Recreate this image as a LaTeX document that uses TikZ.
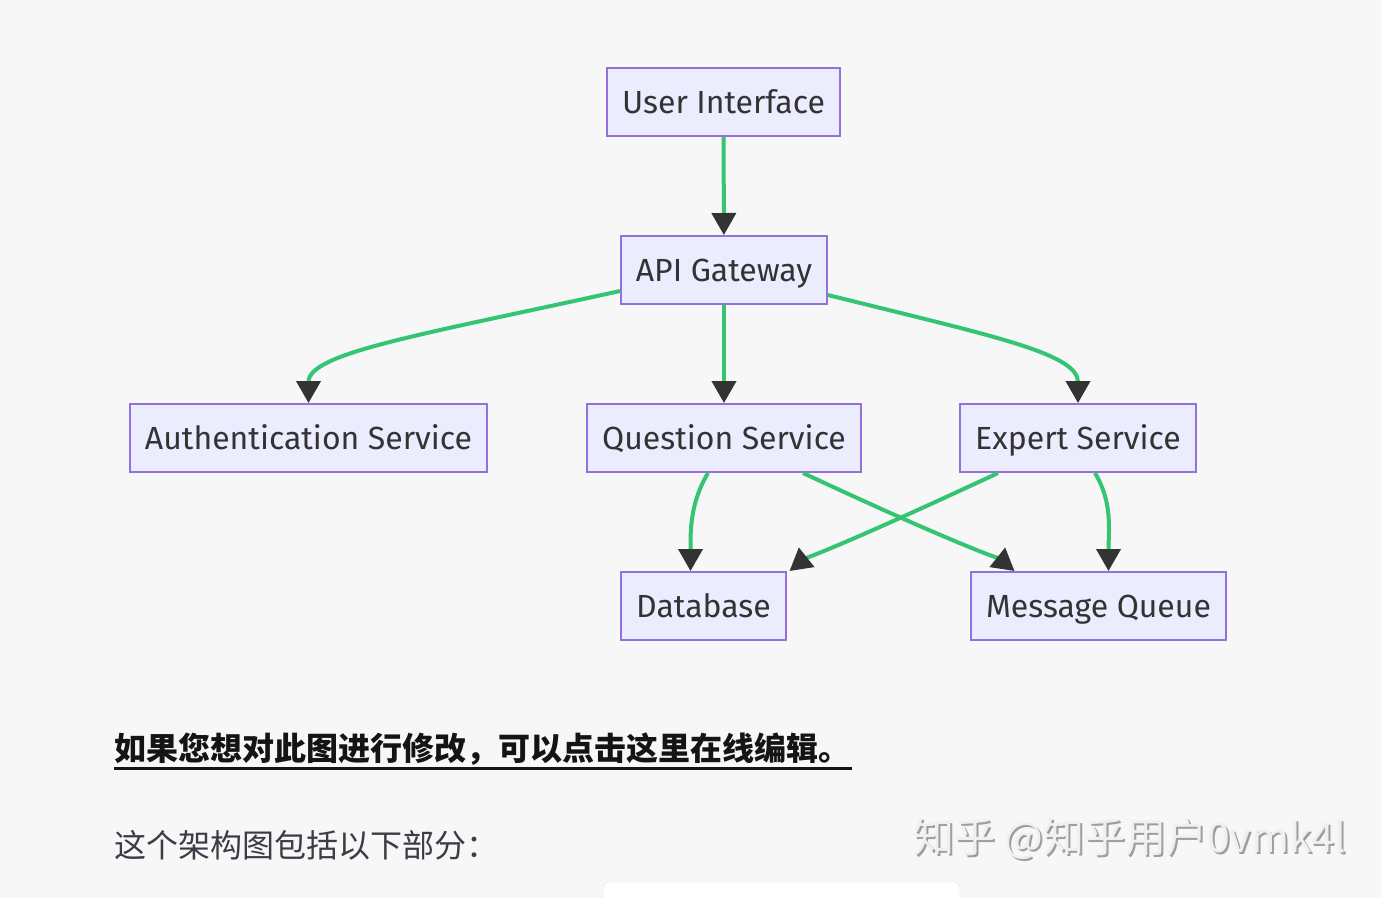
\documentclass[tikz,border=0pt]{standalone}
\usepackage{fontspec}
\setmainfont{Fira Sans}
\newfontfamily\cjk{Noto Sans CJK SC}
\usetikzlibrary{arrows.meta}
\definecolor{bgpage}{HTML}{F7F7F7}
\definecolor{boxfill}{HTML}{ECECFF}
\definecolor{boxline}{HTML}{9370DB}
\definecolor{linkgreen}{HTML}{34C472}
\definecolor{tipgray}{HTML}{333333}
\definecolor{labelgray}{HTML}{333333}
\definecolor{bodygray}{HTML}{3C3C46}

\begin{document}
\begin{tikzpicture}
  [x=1pt,y=-1pt,
   svc/.style={draw=boxline,line width=2pt,fill=boxfill,inner sep=0pt,minimum height=68pt,
     text height=28pt,text depth=6pt,text=labelgray,font=\fontsize{32}{38}\selectfont},
   link/.style={draw=linkgreen,line width=4pt,-{Triangle[length=22pt,width=24pt,color=tipgray]}},
   para/.style={anchor=west,inner sep=0pt,font=\cjk\fontsize{32}{38}\selectfont}]
  \fill[bgpage] (0,0) rectangle (1382,898);
  \useasboundingbox (0,0) rectangle (1382,898);

  \node[svc,minimum width=233pt] (ui)   at (723.5,102)  {User Interface};
  \node[svc,minimum width=206pt] (api)  at (724,270)    {API Gateway};
  \node[svc,minimum width=357pt] (auth) at (308.5,438)  {Authentication Service};
  \node[svc,minimum width=274pt] (qs)   at (724,438)    {Question Service};
  \node[svc,minimum width=236pt] (es)   at (1078,438)   {Expert Service};
  \node[svc,minimum width=165pt] (db)   at (703.5,606)  {Database};
  \node[svc,minimum width=255pt] (mq)   at (1098.5,606) {Message Queue};

  \foreach \from/\to in {ui/api,api/qs}
    \draw[link] (\from) -- (\to);
  \draw[link] ([yshift=-21pt]api.west) .. controls +(-200,44) and +(0,-50) .. (auth.north);
  \draw[link] ([yshift=-25pt]api.east) .. controls +(160,40) and +(0,-50) .. (es.north);
  \draw[link] ([xshift=-16pt]qs.south) .. controls +(-18,30) and +(0,-40) .. ([xshift=-13pt]db.north);
  \draw[link] ([xshift=79pt]qs.south) .. controls +(150,70) and +(-15,-12) .. ([xshift=-84pt]mq.north);
  \draw[link] ([xshift=-80pt]es.south) .. controls +(-150,70) and +(15,-12) .. ([xshift=86pt]db.north);
  \draw[link] ([xshift=17pt]es.south) .. controls +(18,30) and +(0,-40) .. ([xshift=10pt]mq.north);

  % text below the chart
  \node[para,font=\cjk\bfseries\fontsize{32}{38}\selectfont,text=black!92] (editlink) at (114,749)
    {如果您想对此图进行修改，可以点击这里在线编辑。};
  \fill[black!92] ([yshift=-1pt]editlink.south west) rectangle ([xshift=2pt,yshift=-4pt]editlink.south east);
  \node[para,text=bodygray] (intro) at (114,845) {这个架构图包括以下部分：};

  % watermark
  \node[para,font=\cjk\fontsize{41}{48}\selectfont,text=black!38] (wmshadow) at (915,841) {知乎 @知乎用户0vmk4l};
  \node[para,font=\cjk\fontsize{41}{48}\selectfont,text=white!94!black] (wm) at (913,839) {知乎 @知乎用户0vmk4l};

  \draw[black!12,fill=white,rounded corners=6pt] (603,882) rectangle (960,930);
\end{tikzpicture}
\end{document}
